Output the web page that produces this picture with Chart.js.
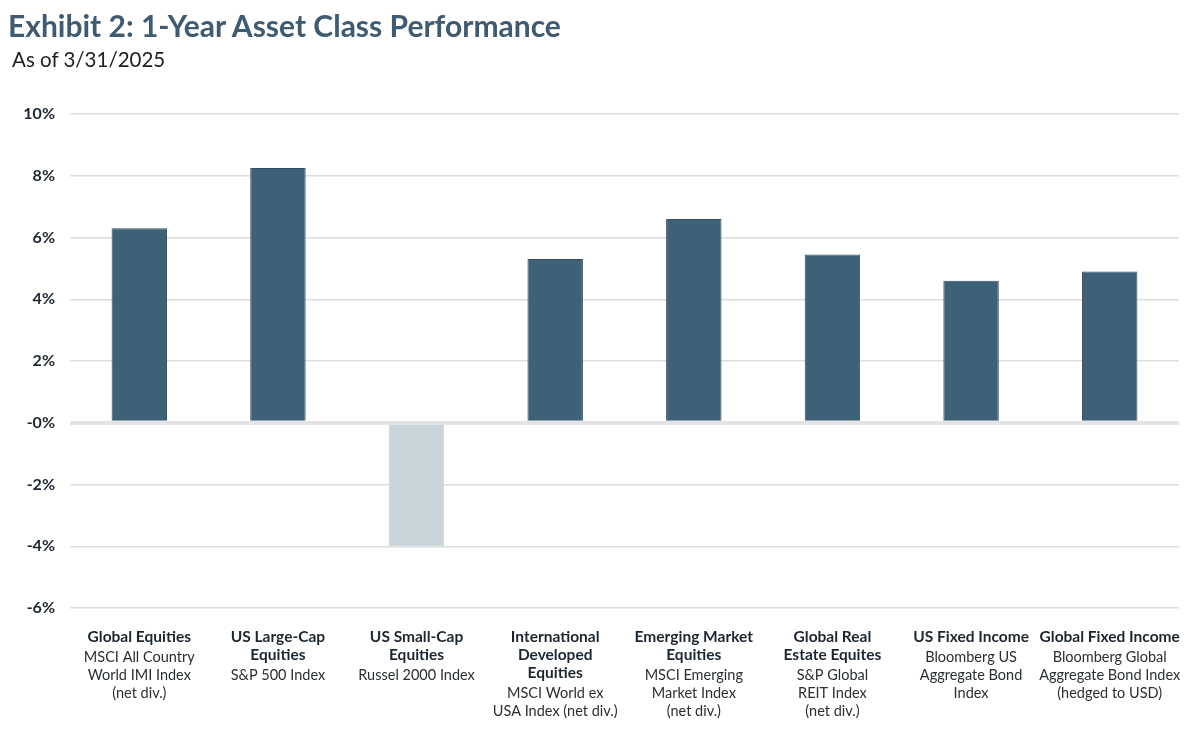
<!DOCTYPE html>
<html>
<head>
<meta charset="utf-8">
<script src="https://cdn.jsdelivr.net/npm/chart.js@4.4.1/dist/chart.umd.min.js"></script>
<style>
  html, body { margin: 0; padding: 0; background: #ffffff; }
  #wrap { position: relative; width: 1200px; height: 730px; overflow: hidden; }
  #title { position: absolute; left: 8px; top: 7px; font-family: Lato, "Noto Sans", sans-serif; font-weight: 700; font-size: 30px; color: #3f5b72; white-space: nowrap; letter-spacing: 0px; }
  #subtitle { position: absolute; left: 12px; top: 47px; font-family: Lato, "Noto Sans", sans-serif; font-weight: 400; font-size: 20.5px; color: #222222; white-space: nowrap; }
  canvas { position: absolute; left: 0; top: 0; }
</style>
</head>
<body>
<div id="wrap">
  <canvas id="c" width="1200" height="730"></canvas>
  <div id="title">Exhibit 2: 1-Year Asset Class Performance</div>
  <div id="subtitle">As of 3/31/2025</div>
</div>
<script>
const categoryNames = [
  ['Global Equities'],
  ['US Large-Cap', 'Equities'],
  ['US Small-Cap', 'Equities'],
  ['International', 'Developed', 'Equities'],
  ['Emerging Market', 'Equities'],
  ['Global Real', 'Estate Equites'],
  ['US Fixed Income'],
  ['Global Fixed Income']
];
const indexNames = [
  ['MSCI All Country', 'World IMI Index', '(net div.)'],
  ['S&P 500 Index'],
  ['Russel 2000 Index'],
  ['MSCI World ex', 'USA Index (net div.)'],
  ['MSCI Emerging', 'Market Index', '(net div.)'],
  ['S&P Global', 'REIT Index', '(net div.)'],
  ['Bloomberg US', 'Aggregate Bond', 'Index'],
  ['Bloomberg Global', 'Aggregate Bond Index', '(hedged to USD)']
];
const returns1Y = [6.3, 8.25, -4.0, 5.3, 6.6, 5.45, 4.6, 4.9];
const yTicks = [-6, -4, -2, 0, 2, 4, 6, 8, 10];

const DARK = '#3e6177';
const LIGHT = '#c9d5da';

const labelPlugin = {
  id: 'catLabels',
  afterDraw(chart) {
    const ctx = chart.ctx;
    const xs = chart.scales.x;
    ctx.save();
    ctx.textAlign = 'center';
    ctx.textBaseline = 'middle';
    categoryNames.forEach((boldLines, i) => {
      const x = xs.getPixelForValue(i);
      let y = 637;
      ctx.fillStyle = '#1c2630';
      ctx.font = '700 15.5px Lato, "Noto Sans", sans-serif';
      boldLines.forEach((t) => {
        ctx.fillText(t, x, y);
        y += 18;
      });
      y += 2;
      ctx.font = '400 14.5px Lato, "Noto Sans", sans-serif';
      ctx.fillStyle = '#2a2f33';
      indexNames[i].forEach((t) => {
        ctx.fillText(t, x, y);
        y += 18;
      });
    });
    ctx.restore();
  }
};

new Chart(document.getElementById('c'), {
  type: 'bar',
  data: {
    labels: categoryNames.map(a => a.join(' ')),
    datasets: [{
      data: returns1Y,
      backgroundColor: returns1Y.map(v => v < 0 ? LIGHT : DARK),
      borderColor: returns1Y.map(v => v < 0 ? LIGHT : '#2f5064'),
      borderWidth: 1,
      categoryPercentage: 0.8,
      barPercentage: 0.5
    }]
  },
  options: {
    responsive: false,
    animation: false,
    devicePixelRatio: 1,
    layout: { padding: { top: 114, bottom: 114, left: 0, right: 21 } },
    plugins: { legend: { display: false }, tooltip: { enabled: false }, title: { display: false } },
    scales: {
      x: {
        grid: { display: false },
        border: { display: false },
        ticks: { display: false }
      },
      y: {
        min: -6,
        max: 10,
        afterBuildTicks(scale) { scale.ticks = yTicks.map(v => ({ value: v })); },
        afterFit(scale) { scale.width = 70; },
        border: { display: false },
        grid: {
          drawTicks: false,
          color: ctx => ctx.tick && ctx.tick.value === 0 ? '#e4e4e4' : '#dedede',
          lineWidth: ctx => ctx.tick && ctx.tick.value === 0 ? 4 : 1.5
        },
        ticks: {
          padding: 15,
          color: '#1c2630',
          font: { family: 'Lato, "Noto Sans", sans-serif', weight: '700', size: 16 },
          callback: v => (v === 0 ? '-0' : String(v)) + '%'
        }
      }
    }
  },
  plugins: [labelPlugin]
});
</script>
</body>
</html>
